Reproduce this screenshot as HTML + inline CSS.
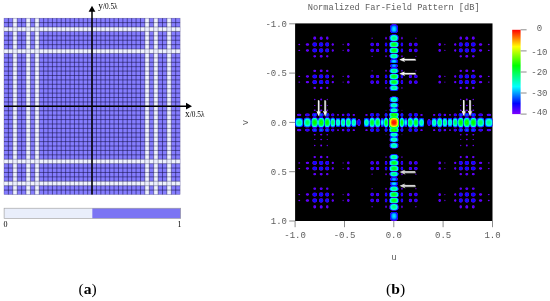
<!DOCTYPE html>
<html lang="en">
<head>
<meta charset="utf-8">
<title>Figure</title>
<style>
html,body{margin:0;padding:0;background:#fff;}
body{width:550px;height:301px;overflow:hidden;}
svg{display:block;}
.se{font-family:"Liberation Serif",serif;fill:#000;}
.mo{font-family:"Liberation Mono",monospace;font-size:9px;fill:#5e5e5e;}
</style>
</head>
<body>
<svg width="550" height="301" viewBox="0 0 550 301">
<defs><linearGradient id="cb" x1="0" y1="0" x2="0" y2="1"><stop offset="0.000" stop-color="#ff0000"/><stop offset="0.200" stop-color="#ffff00"/><stop offset="0.425" stop-color="#00ff00"/><stop offset="0.675" stop-color="#00ffff"/><stop offset="0.875" stop-color="#0000ff"/><stop offset="1.000" stop-color="#8000ff"/></linearGradient><g id="L0"><rect x="388.84" y="116.93" width="10.31" height="11.14" rx="2.76" ry="2.98"/><rect x="389.39" y="112.77" width="9.22" height="4.26" rx="2.58" ry="1.19"/><rect x="389.81" y="108.34" width="8.39" height="3.93" rx="2.57" ry="1.20"/><rect x="389.84" y="103.06" width="8.32" height="4.58" rx="2.57" ry="1.41"/><rect x="389.84" y="96.79" width="8.32" height="5.34" rx="2.57" ry="1.65"/><rect x="389.77" y="85.41" width="8.45" height="5.07" rx="2.57" ry="1.54"/><rect x="389.51" y="79.57" width="8.97" height="5.16" rx="2.57" ry="1.48"/><rect x="389.51" y="73.88" width="8.97" height="5.16" rx="2.57" ry="1.48"/><rect x="389.74" y="68.46" width="8.52" height="4.76" rx="2.57" ry="1.44"/><rect x="390.41" y="64.05" width="7.19" height="3.45" rx="2.53" ry="1.22"/><rect x="390.20" y="59.44" width="7.60" height="3.62" rx="2.55" ry="1.21"/><rect x="389.74" y="53.80" width="8.52" height="4.76" rx="2.57" ry="1.44"/><rect x="389.51" y="47.78" width="8.97" height="5.34" rx="2.57" ry="1.53"/><rect x="389.51" y="41.78" width="8.97" height="5.43" rx="2.57" ry="1.56"/><rect x="389.74" y="34.68" width="8.52" height="6.40" rx="2.57" ry="1.93"/><rect x="390.25" y="24.46" width="7.50" height="8.55" rx="2.55" ry="2.91"/><rect x="384.36" y="117.63" width="3.46" height="9.74" rx="0.99" ry="2.78"/><rect x="384.75" y="113.30" width="2.64" height="3.20" rx="0.92" ry="1.11"/><rect x="385.61" y="109.80" width="0.82" height="0.99" rx="0.41" ry="0.49"/><rect x="385.46" y="87.02" width="1.15" height="1.79" rx="0.57" ry="0.88"/><rect x="384.89" y="80.37" width="2.35" height="3.53" rx="0.91" ry="1.36"/><rect x="384.89" y="74.71" width="2.35" height="3.53" rx="0.91" ry="1.36"/><rect x="385.34" y="69.81" width="1.39" height="2.02" rx="0.67" ry="0.97"/><rect x="385.34" y="55.30" width="1.39" height="2.02" rx="0.67" ry="0.97"/><rect x="384.89" y="48.64" width="2.35" height="3.65" rx="0.91" ry="1.41"/><rect x="384.89" y="42.64" width="2.35" height="3.71" rx="0.91" ry="1.44"/><rect x="385.34" y="36.82" width="1.39" height="2.71" rx="0.67" ry="1.31"/><rect x="380.78" y="118.30" width="3.05" height="8.40" rx="1.00" ry="2.76"/><rect x="375.18" y="117.71" width="4.93" height="9.57" rx="1.43" ry="2.78"/><rect x="375.84" y="113.40" width="3.59" height="3.00" rx="1.33" ry="1.11"/><rect x="376.11" y="80.55" width="3.05" height="3.16" rx="1.28" ry="1.32"/><rect x="376.11" y="74.89" width="3.05" height="3.16" rx="1.28" ry="1.32"/><rect x="376.11" y="48.84" width="3.05" height="3.27" rx="1.28" ry="1.37"/><rect x="376.11" y="42.84" width="3.05" height="3.32" rx="1.28" ry="1.39"/><rect x="369.58" y="117.68" width="5.04" height="9.63" rx="1.45" ry="2.78"/><rect x="370.23" y="113.36" width="3.74" height="3.07" rx="1.35" ry="1.11"/><rect x="370.48" y="80.48" width="3.24" height="3.29" rx="1.32" ry="1.34"/><rect x="370.48" y="74.82" width="3.24" height="3.29" rx="1.32" ry="1.34"/><rect x="371.50" y="70.22" width="1.21" height="1.19" rx="0.60" ry="0.59"/><rect x="371.50" y="55.75" width="1.21" height="1.19" rx="0.60" ry="0.59"/><rect x="370.48" y="48.77" width="3.24" height="3.41" rx="1.32" ry="1.39"/><rect x="370.48" y="42.77" width="3.24" height="3.47" rx="1.32" ry="1.41"/><rect x="371.50" y="37.47" width="1.21" height="1.60" rx="0.60" ry="0.79"/><rect x="364.04" y="118.01" width="4.83" height="8.98" rx="1.49" ry="2.77"/><rect x="365.29" y="113.94" width="2.38" height="1.92" rx="1.12" ry="0.90"/><rect x="357.47" y="119.33" width="2.93" height="6.35" rx="1.19" ry="2.59"/><rect x="351.43" y="118.01" width="4.75" height="8.98" rx="1.47" ry="2.77"/><rect x="352.63" y="113.94" width="2.34" height="1.92" rx="1.10" ry="0.90"/><rect x="346.01" y="117.80" width="4.67" height="9.39" rx="1.38" ry="2.78"/><rect x="346.74" y="113.52" width="3.18" height="2.76" rx="1.26" ry="1.09"/><rect x="347.10" y="80.81" width="2.44" height="2.62" rx="1.11" ry="1.20"/><rect x="347.10" y="75.17" width="2.44" height="2.62" rx="1.11" ry="1.20"/><rect x="347.10" y="49.12" width="2.44" height="2.71" rx="1.11" ry="1.24"/><rect x="347.10" y="43.12" width="2.44" height="2.76" rx="1.11" ry="1.26"/><rect x="340.95" y="117.94" width="4.38" height="9.13" rx="1.33" ry="2.77"/><rect x="341.86" y="113.76" width="2.53" height="2.28" rx="1.12" ry="1.01"/><rect x="342.56" y="81.50" width="1.10" height="1.23" rx="0.55" ry="0.61"/><rect x="342.56" y="75.87" width="1.10" height="1.23" rx="0.55" ry="0.61"/><rect x="342.56" y="49.85" width="1.10" height="1.27" rx="0.55" ry="0.63"/><rect x="342.56" y="43.85" width="1.10" height="1.29" rx="0.55" ry="0.64"/><rect x="335.81" y="118.05" width="4.38" height="8.91" rx="1.36" ry="2.77"/><rect x="337.05" y="114.06" width="1.91" height="1.69" rx="0.92" ry="0.81"/><rect x="330.44" y="117.84" width="4.64" height="9.33" rx="1.38" ry="2.78"/><rect x="331.24" y="113.57" width="3.06" height="2.66" rx="1.25" ry="1.08"/><rect x="331.67" y="80.93" width="2.21" height="2.38" rx="1.04" ry="1.12"/><rect x="331.67" y="75.29" width="2.21" height="2.38" rx="1.04" ry="1.12"/><rect x="331.67" y="49.25" width="2.21" height="2.46" rx="1.04" ry="1.16"/><rect x="331.67" y="43.25" width="2.21" height="2.51" rx="1.04" ry="1.18"/><rect x="324.56" y="117.60" width="5.30" height="9.80" rx="1.50" ry="2.78"/><rect x="325.18" y="113.27" width="4.10" height="3.26" rx="1.40" ry="1.11"/><rect x="326.39" y="109.60" width="1.76" height="1.39" rx="0.86" ry="0.68"/><rect x="326.65" y="104.95" width="1.25" height="1.16" rx="0.62" ry="0.58"/><rect x="326.65" y="98.81" width="1.25" height="1.36" rx="0.62" ry="0.68"/><rect x="326.20" y="86.84" width="2.13" height="2.16" rx="1.02" ry="1.04"/><rect x="325.39" y="80.32" width="3.69" height="3.63" rx="1.40" ry="1.37"/><rect x="325.39" y="74.65" width="3.69" height="3.63" rx="1.40" ry="1.37"/><rect x="326.05" y="69.67" width="2.42" height="2.30" rx="1.14" ry="1.08"/><rect x="326.05" y="55.15" width="2.42" height="2.30" rx="1.14" ry="1.08"/><rect x="325.39" y="48.59" width="3.69" height="3.76" rx="1.40" ry="1.42"/><rect x="325.39" y="42.59" width="3.69" height="3.82" rx="1.40" ry="1.44"/><rect x="326.05" y="36.60" width="2.42" height="3.09" rx="1.14" ry="1.45"/><rect x="318.26" y="117.57" width="5.78" height="9.85" rx="1.63" ry="2.78"/><rect x="318.90" y="113.25" width="4.53" height="3.31" rx="1.52" ry="1.11"/><rect x="320.03" y="109.46" width="2.31" height="1.69" rx="1.11" ry="0.81"/><rect x="320.23" y="104.69" width="1.91" height="1.63" rx="0.94" ry="0.80"/><rect x="320.23" y="98.53" width="1.91" height="1.91" rx="0.94" ry="0.94"/><rect x="319.86" y="86.69" width="2.63" height="2.46" rx="1.24" ry="1.16"/><rect x="319.11" y="80.27" width="4.11" height="3.72" rx="1.52" ry="1.37"/><rect x="319.11" y="74.61" width="4.11" height="3.72" rx="1.52" ry="1.37"/><rect x="319.73" y="69.56" width="2.90" height="2.53" rx="1.32" ry="1.16"/><rect x="319.73" y="55.02" width="2.90" height="2.53" rx="1.32" ry="1.16"/><rect x="319.11" y="48.54" width="4.11" height="3.85" rx="1.52" ry="1.42"/><rect x="319.11" y="42.54" width="4.11" height="3.92" rx="1.52" ry="1.45"/><rect x="319.73" y="36.42" width="2.90" height="3.40" rx="1.32" ry="1.56"/><rect x="311.51" y="117.60" width="6.21" height="9.80" rx="1.76" ry="2.78"/><rect x="312.25" y="113.27" width="4.81" height="3.26" rx="1.64" ry="1.11"/><rect x="313.71" y="109.60" width="2.06" height="1.39" rx="1.01" ry="0.68"/><rect x="314.02" y="104.95" width="1.47" height="1.16" rx="0.73" ry="0.58"/><rect x="314.02" y="98.81" width="1.47" height="1.36" rx="0.73" ry="0.68"/><rect x="313.48" y="86.84" width="2.49" height="2.16" rx="1.20" ry="1.04"/><rect x="312.51" y="80.32" width="4.33" height="3.63" rx="1.64" ry="1.37"/><rect x="312.51" y="74.65" width="4.33" height="3.63" rx="1.64" ry="1.37"/><rect x="313.30" y="69.67" width="2.84" height="2.30" rx="1.33" ry="1.08"/><rect x="313.30" y="55.15" width="2.84" height="2.30" rx="1.33" ry="1.08"/><rect x="312.51" y="48.59" width="4.33" height="3.76" rx="1.64" ry="1.42"/><rect x="312.51" y="42.59" width="4.33" height="3.82" rx="1.64" ry="1.44"/><rect x="313.30" y="36.60" width="2.84" height="3.09" rx="1.33" ry="1.45"/><rect x="303.91" y="117.84" width="6.83" height="9.33" rx="2.03" ry="2.78"/><rect x="305.13" y="113.57" width="4.51" height="2.66" rx="1.84" ry="1.08"/><rect x="305.79" y="80.93" width="3.26" height="2.38" rx="1.53" ry="1.12"/><rect x="305.79" y="75.29" width="3.26" height="2.38" rx="1.53" ry="1.12"/><rect x="305.79" y="49.25" width="3.26" height="2.46" rx="1.53" ry="1.16"/><rect x="305.79" y="43.25" width="3.26" height="2.51" rx="1.53" ry="1.18"/><rect x="295.26" y="117.94" width="7.57" height="9.13" rx="2.30" ry="2.77"/><rect x="296.97" y="113.76" width="4.36" height="2.28" rx="1.94" ry="1.01"/><rect x="298.29" y="81.50" width="1.90" height="1.23" rx="0.94" ry="0.61"/><rect x="298.29" y="75.87" width="1.90" height="1.23" rx="0.94" ry="0.61"/><rect x="298.29" y="49.85" width="1.90" height="1.27" rx="0.94" ry="0.63"/><rect x="298.29" y="43.85" width="1.90" height="1.29" rx="0.94" ry="0.64"/></g><g id="L1"><rect x="388.88" y="116.97" width="10.24" height="11.06" rx="2.76" ry="2.98"/><rect x="389.45" y="112.79" width="9.10" height="4.21" rx="2.57" ry="1.19"/><rect x="389.89" y="108.37" width="8.21" height="3.86" rx="2.56" ry="1.21"/><rect x="389.93" y="103.10" width="8.14" height="4.50" rx="2.56" ry="1.42"/><rect x="389.93" y="96.84" width="8.14" height="5.25" rx="2.56" ry="1.65"/><rect x="389.86" y="85.45" width="8.28" height="4.99" rx="2.57" ry="1.54"/><rect x="389.58" y="79.60" width="8.84" height="5.09" rx="2.57" ry="1.48"/><rect x="389.58" y="73.91" width="8.84" height="5.09" rx="2.57" ry="1.48"/><rect x="389.82" y="68.50" width="8.35" height="4.68" rx="2.57" ry="1.44"/><rect x="390.56" y="64.11" width="6.89" height="3.33" rx="2.52" ry="1.22"/><rect x="390.33" y="59.49" width="7.35" height="3.52" rx="2.54" ry="1.22"/><rect x="389.82" y="53.85" width="8.35" height="4.68" rx="2.57" ry="1.44"/><rect x="389.58" y="47.82" width="8.84" height="5.27" rx="2.57" ry="1.53"/><rect x="389.58" y="41.82" width="8.84" height="5.36" rx="2.57" ry="1.56"/><rect x="389.82" y="34.74" width="8.35" height="6.30" rx="2.57" ry="1.94"/><rect x="390.38" y="24.59" width="7.24" height="8.31" rx="2.54" ry="2.91"/><rect x="384.38" y="117.70" width="3.41" height="9.60" rx="0.99" ry="2.78"/><rect x="384.81" y="113.38" width="2.51" height="3.04" rx="0.92" ry="1.11"/><rect x="384.98" y="80.52" width="2.15" height="3.23" rx="0.89" ry="1.33"/><rect x="384.98" y="74.86" width="2.15" height="3.23" rx="0.89" ry="1.33"/><rect x="385.73" y="70.39" width="0.58" height="0.84" rx="0.29" ry="0.42"/><rect x="385.73" y="55.94" width="0.58" height="0.84" rx="0.29" ry="0.42"/><rect x="384.98" y="48.80" width="2.15" height="3.34" rx="0.89" ry="1.38"/><rect x="384.98" y="42.80" width="2.15" height="3.40" rx="0.89" ry="1.40"/><rect x="385.73" y="37.74" width="0.58" height="1.13" rx="0.29" ry="0.56"/><rect x="380.81" y="118.42" width="2.97" height="8.15" rx="1.00" ry="2.75"/><rect x="375.21" y="117.79" width="4.86" height="9.42" rx="1.43" ry="2.78"/><rect x="375.96" y="113.50" width="3.35" height="2.80" rx="1.31" ry="1.10"/><rect x="376.31" y="80.76" width="2.63" height="2.73" rx="1.19" ry="1.23"/><rect x="376.31" y="75.11" width="2.63" height="2.73" rx="1.19" ry="1.23"/><rect x="376.31" y="49.06" width="2.63" height="2.82" rx="1.19" ry="1.27"/><rect x="376.31" y="43.06" width="2.63" height="2.87" rx="1.19" ry="1.29"/><rect x="369.61" y="117.76" width="4.98" height="9.49" rx="1.46" ry="2.78"/><rect x="370.34" y="113.46" width="3.52" height="2.89" rx="1.34" ry="1.10"/><rect x="370.67" y="80.67" width="2.87" height="2.92" rx="1.25" ry="1.28"/><rect x="370.67" y="75.02" width="2.87" height="2.92" rx="1.25" ry="1.28"/><rect x="370.67" y="48.96" width="2.87" height="3.02" rx="1.25" ry="1.32"/><rect x="370.67" y="42.96" width="2.87" height="3.07" rx="1.25" ry="1.34"/><rect x="364.09" y="118.10" width="4.75" height="8.79" rx="1.49" ry="2.77"/><rect x="365.74" y="114.29" width="1.50" height="1.21" rx="0.74" ry="0.60"/><rect x="357.59" y="119.61" width="2.71" height="5.77" rx="1.16" ry="2.48"/><rect x="351.47" y="118.10" width="4.66" height="8.79" rx="1.47" ry="2.77"/><rect x="353.06" y="114.29" width="1.47" height="1.21" rx="0.73" ry="0.60"/><rect x="346.04" y="117.88" width="4.60" height="9.23" rx="1.38" ry="2.77"/><rect x="346.89" y="113.66" width="2.86" height="2.49" rx="1.22" ry="1.06"/><rect x="347.42" y="81.16" width="1.78" height="1.92" rx="0.87" ry="0.93"/><rect x="347.42" y="75.52" width="1.78" height="1.92" rx="0.87" ry="0.93"/><rect x="347.42" y="49.49" width="1.78" height="1.99" rx="0.87" ry="0.97"/><rect x="347.42" y="43.49" width="1.78" height="2.02" rx="0.87" ry="0.98"/><rect x="340.99" y="118.03" width="4.31" height="8.95" rx="1.34" ry="2.77"/><rect x="342.12" y="113.99" width="2.01" height="1.81" rx="0.96" ry="0.86"/><rect x="335.85" y="118.15" width="4.30" height="8.71" rx="1.37" ry="2.77"/><rect x="337.60" y="114.55" width="0.79" height="0.70" rx="0.40" ry="0.35"/><rect x="330.47" y="117.92" width="4.57" height="9.16" rx="1.38" ry="2.77"/><rect x="331.42" y="113.72" width="2.71" height="2.35" rx="1.19" ry="1.03"/><rect x="332.09" y="81.36" width="1.40" height="1.50" rx="0.69" ry="0.74"/><rect x="332.09" y="75.74" width="1.40" height="1.50" rx="0.69" ry="0.74"/><rect x="332.09" y="49.71" width="1.40" height="1.55" rx="0.69" ry="0.77"/><rect x="332.09" y="43.71" width="1.40" height="1.58" rx="0.69" ry="0.78"/><rect x="324.59" y="117.67" width="5.24" height="9.66" rx="1.51" ry="2.78"/><rect x="325.27" y="113.35" width="3.92" height="3.11" rx="1.40" ry="1.11"/><rect x="326.84" y="87.46" width="0.89" height="0.90" rx="0.44" ry="0.45"/><rect x="325.53" y="80.45" width="3.41" height="3.36" rx="1.37" ry="1.35"/><rect x="325.53" y="74.79" width="3.41" height="3.36" rx="1.37" ry="1.35"/><rect x="326.51" y="70.09" width="1.53" height="1.45" rx="0.76" ry="0.72"/><rect x="326.51" y="55.61" width="1.53" height="1.45" rx="0.76" ry="0.72"/><rect x="325.53" y="48.73" width="3.41" height="3.47" rx="1.37" ry="1.40"/><rect x="325.53" y="42.73" width="3.41" height="3.53" rx="1.37" ry="1.42"/><rect x="326.51" y="37.27" width="1.53" height="1.95" rx="0.76" ry="0.96"/><rect x="318.30" y="117.64" width="5.72" height="9.72" rx="1.63" ry="2.78"/><rect x="319.00" y="113.32" width="4.34" height="3.17" rx="1.52" ry="1.11"/><rect x="320.71" y="109.95" width="0.96" height="0.70" rx="0.48" ry="0.35"/><rect x="320.36" y="87.14" width="1.66" height="1.55" rx="0.82" ry="0.77"/><rect x="319.25" y="80.39" width="3.84" height="3.47" rx="1.50" ry="1.36"/><rect x="319.25" y="74.73" width="3.84" height="3.47" rx="1.50" ry="1.36"/><rect x="320.12" y="69.89" width="2.12" height="1.85" rx="1.03" ry="0.90"/><rect x="320.12" y="55.39" width="2.12" height="1.85" rx="1.03" ry="0.90"/><rect x="319.25" y="48.67" width="3.84" height="3.59" rx="1.50" ry="1.41"/><rect x="319.25" y="42.67" width="3.84" height="3.66" rx="1.50" ry="1.43"/><rect x="320.12" y="36.95" width="2.12" height="2.49" rx="1.03" ry="1.21"/><rect x="311.55" y="117.67" width="6.14" height="9.66" rx="1.77" ry="2.78"/><rect x="312.37" y="113.35" width="4.59" height="3.11" rx="1.64" ry="1.11"/><rect x="314.25" y="87.46" width="1.04" height="0.90" rx="0.52" ry="0.45"/><rect x="312.68" y="80.45" width="4.00" height="3.36" rx="1.61" ry="1.35"/><rect x="312.68" y="74.79" width="4.00" height="3.36" rx="1.61" ry="1.35"/><rect x="313.85" y="70.09" width="1.79" height="1.45" rx="0.89" ry="0.72"/><rect x="313.85" y="55.61" width="1.79" height="1.45" rx="0.89" ry="0.72"/><rect x="312.68" y="48.73" width="4.00" height="3.47" rx="1.61" ry="1.40"/><rect x="312.68" y="42.73" width="4.00" height="3.53" rx="1.61" ry="1.42"/><rect x="313.85" y="37.27" width="1.79" height="1.95" rx="0.89" ry="0.96"/><rect x="303.96" y="117.92" width="6.73" height="9.16" rx="2.04" ry="2.77"/><rect x="305.40" y="113.72" width="3.99" height="2.35" rx="1.75" ry="1.03"/><rect x="306.42" y="81.36" width="2.05" height="1.50" rx="1.02" ry="0.74"/><rect x="306.42" y="75.74" width="2.05" height="1.50" rx="1.02" ry="0.74"/><rect x="306.42" y="49.71" width="2.05" height="1.55" rx="1.02" ry="0.77"/><rect x="306.42" y="43.71" width="2.05" height="1.58" rx="1.02" ry="0.78"/><rect x="295.33" y="118.03" width="7.44" height="8.95" rx="2.30" ry="2.77"/><rect x="297.45" y="113.99" width="3.46" height="1.81" rx="1.65" ry="0.86"/></g><g id="L2"><rect x="388.92" y="117.01" width="10.16" height="10.97" rx="2.76" ry="2.98"/><rect x="389.51" y="112.82" width="8.97" height="4.16" rx="2.57" ry="1.19"/><rect x="389.99" y="108.41" width="8.02" height="3.78" rx="2.56" ry="1.21"/><rect x="390.03" y="103.15" width="7.95" height="4.41" rx="2.56" ry="1.42"/><rect x="390.03" y="96.89" width="7.95" height="5.14" rx="2.56" ry="1.66"/><rect x="389.95" y="85.49" width="8.10" height="4.89" rx="2.56" ry="1.55"/><rect x="389.65" y="79.63" width="8.70" height="5.02" rx="2.57" ry="1.48"/><rect x="389.65" y="73.94" width="8.70" height="5.02" rx="2.57" ry="1.48"/><rect x="389.91" y="68.54" width="8.18" height="4.60" rx="2.56" ry="1.44"/><rect x="390.73" y="64.17" width="6.55" height="3.20" rx="2.49" ry="1.22"/><rect x="390.46" y="59.55" width="7.07" height="3.41" rx="2.53" ry="1.22"/><rect x="389.91" y="53.89" width="8.18" height="4.60" rx="2.56" ry="1.44"/><rect x="389.65" y="47.86" width="8.70" height="5.20" rx="2.57" ry="1.54"/><rect x="389.65" y="41.86" width="8.70" height="5.29" rx="2.57" ry="1.56"/><rect x="389.91" y="34.81" width="8.18" height="6.19" rx="2.56" ry="1.94"/><rect x="390.52" y="24.75" width="6.95" height="8.03" rx="2.52" ry="2.91"/><rect x="384.41" y="117.77" width="3.37" height="9.45" rx="0.99" ry="2.78"/><rect x="384.89" y="113.48" width="2.35" height="2.85" rx="0.91" ry="1.10"/><rect x="385.11" y="80.71" width="1.88" height="2.83" rx="0.84" ry="1.25"/><rect x="385.11" y="75.06" width="1.88" height="2.83" rx="0.84" ry="1.25"/><rect x="385.11" y="49.01" width="1.88" height="2.92" rx="0.84" ry="1.30"/><rect x="385.11" y="43.01" width="1.88" height="2.97" rx="0.84" ry="1.32"/><rect x="380.86" y="118.56" width="2.89" height="7.88" rx="1.01" ry="2.74"/><rect x="375.25" y="117.87" width="4.79" height="9.26" rx="1.43" ry="2.77"/><rect x="376.11" y="113.63" width="3.05" height="2.55" rx="1.28" ry="1.07"/><rect x="376.61" y="81.07" width="2.02" height="2.09" rx="0.97" ry="1.01"/><rect x="376.61" y="75.44" width="2.02" height="2.09" rx="0.97" ry="1.01"/><rect x="376.61" y="49.40" width="2.02" height="2.16" rx="0.97" ry="1.04"/><rect x="376.61" y="43.40" width="2.02" height="2.20" rx="0.97" ry="1.06"/><rect x="369.65" y="117.84" width="4.91" height="9.33" rx="1.46" ry="2.78"/><rect x="370.48" y="113.57" width="3.24" height="2.66" rx="1.32" ry="1.08"/><rect x="370.93" y="80.93" width="2.34" height="2.38" rx="1.10" ry="1.12"/><rect x="370.93" y="75.29" width="2.34" height="2.38" rx="1.10" ry="1.12"/><rect x="370.93" y="49.25" width="2.34" height="2.46" rx="1.10" ry="1.16"/><rect x="370.93" y="43.25" width="2.34" height="2.51" rx="1.10" ry="1.18"/><rect x="364.13" y="118.21" width="4.65" height="8.58" rx="1.50" ry="2.77"/><rect x="357.74" y="119.97" width="2.42" height="5.06" rx="1.09" ry="2.29"/><rect x="351.52" y="118.21" width="4.57" height="8.58" rx="1.47" ry="2.77"/><rect x="346.08" y="117.97" width="4.53" height="9.06" rx="1.39" ry="2.77"/><rect x="347.10" y="113.84" width="2.44" height="2.12" rx="1.11" ry="0.97"/><rect x="341.03" y="118.13" width="4.23" height="8.75" rx="1.34" ry="2.77"/><rect x="342.56" y="114.40" width="1.10" height="0.99" rx="0.55" ry="0.49"/><rect x="335.90" y="118.25" width="4.21" height="8.49" rx="1.37" ry="2.76"/><rect x="330.51" y="118.01" width="4.49" height="8.98" rx="1.39" ry="2.77"/><rect x="331.67" y="113.94" width="2.21" height="1.92" rx="1.04" ry="0.90"/><rect x="324.63" y="117.74" width="5.17" height="9.52" rx="1.51" ry="2.78"/><rect x="325.39" y="113.44" width="3.69" height="2.93" rx="1.40" ry="1.11"/><rect x="325.72" y="80.63" width="3.05" height="3.00" rx="1.32" ry="1.29"/><rect x="325.72" y="74.97" width="3.05" height="3.00" rx="1.32" ry="1.29"/><rect x="325.72" y="48.92" width="3.05" height="3.11" rx="1.32" ry="1.34"/><rect x="325.72" y="42.92" width="3.05" height="3.16" rx="1.32" ry="1.36"/><rect x="318.33" y="117.71" width="5.64" height="9.57" rx="1.64" ry="2.78"/><rect x="319.11" y="113.40" width="4.11" height="3.00" rx="1.52" ry="1.11"/><rect x="319.43" y="80.55" width="3.49" height="3.16" rx="1.46" ry="1.32"/><rect x="319.43" y="74.89" width="3.49" height="3.16" rx="1.46" ry="1.32"/><rect x="319.43" y="48.84" width="3.49" height="3.27" rx="1.46" ry="1.37"/><rect x="319.43" y="42.84" width="3.49" height="3.32" rx="1.46" ry="1.39"/><rect x="311.59" y="117.74" width="6.06" height="9.52" rx="1.77" ry="2.78"/><rect x="312.51" y="113.44" width="4.33" height="2.93" rx="1.64" ry="1.11"/><rect x="312.90" y="80.63" width="3.58" height="3.00" rx="1.54" ry="1.29"/><rect x="312.90" y="74.97" width="3.58" height="3.00" rx="1.54" ry="1.29"/><rect x="312.90" y="48.92" width="3.58" height="3.11" rx="1.54" ry="1.34"/><rect x="312.90" y="42.92" width="3.58" height="3.16" rx="1.54" ry="1.36"/><rect x="304.02" y="118.01" width="6.62" height="8.98" rx="2.04" ry="2.77"/><rect x="305.79" y="113.94" width="3.26" height="1.92" rx="1.53" ry="0.90"/><rect x="295.40" y="118.13" width="7.30" height="8.75" rx="2.31" ry="2.77"/><rect x="298.29" y="114.40" width="1.90" height="0.99" rx="0.94" ry="0.49"/></g><g id="L3"><rect x="388.96" y="117.06" width="10.08" height="10.89" rx="2.76" ry="2.98"/><rect x="389.58" y="112.85" width="8.84" height="4.11" rx="2.57" ry="1.20"/><rect x="390.09" y="108.45" width="7.82" height="3.70" rx="2.56" ry="1.21"/><rect x="390.13" y="103.21" width="7.73" height="4.31" rx="2.56" ry="1.42"/><rect x="390.13" y="96.95" width="7.73" height="5.03" rx="2.56" ry="1.66"/><rect x="390.05" y="85.54" width="7.90" height="4.79" rx="2.56" ry="1.55"/><rect x="389.73" y="79.67" width="8.55" height="4.95" rx="2.57" ry="1.49"/><rect x="389.73" y="73.98" width="8.55" height="4.95" rx="2.57" ry="1.49"/><rect x="390.01" y="68.59" width="7.99" height="4.51" rx="2.56" ry="1.45"/><rect x="390.93" y="64.25" width="6.15" height="3.04" rx="2.44" ry="1.21"/><rect x="390.62" y="59.62" width="6.76" height="3.28" rx="2.51" ry="1.22"/><rect x="390.01" y="53.94" width="7.99" height="4.51" rx="2.56" ry="1.45"/><rect x="389.73" y="47.90" width="8.55" height="5.12" rx="2.57" ry="1.54"/><rect x="389.73" y="41.90" width="8.55" height="5.21" rx="2.57" ry="1.57"/><rect x="390.01" y="34.88" width="7.99" height="6.06" rx="2.56" ry="1.94"/><rect x="390.69" y="24.92" width="6.62" height="7.72" rx="2.49" ry="2.91"/><rect x="384.43" y="117.85" width="3.32" height="9.30" rx="0.99" ry="2.77"/><rect x="384.98" y="113.60" width="2.15" height="2.60" rx="0.89" ry="1.08"/><rect x="385.29" y="81.00" width="1.50" height="2.24" rx="0.71" ry="1.07"/><rect x="385.29" y="75.36" width="1.50" height="2.24" rx="0.71" ry="1.07"/><rect x="385.29" y="49.32" width="1.50" height="2.32" rx="0.71" ry="1.11"/><rect x="385.29" y="43.32" width="1.50" height="2.36" rx="0.71" ry="1.12"/><rect x="380.90" y="118.71" width="2.80" height="7.57" rx="1.01" ry="2.73"/><rect x="375.29" y="117.95" width="4.71" height="9.09" rx="1.44" ry="2.77"/><rect x="376.31" y="113.80" width="2.63" height="2.20" rx="1.19" ry="0.99"/><rect x="377.19" y="81.67" width="0.84" height="0.87" rx="0.42" ry="0.43"/><rect x="377.19" y="76.06" width="0.84" height="0.87" rx="0.42" ry="0.43"/><rect x="377.19" y="50.04" width="0.84" height="0.90" rx="0.42" ry="0.45"/><rect x="377.19" y="44.04" width="0.84" height="0.92" rx="0.42" ry="0.46"/><rect x="369.69" y="117.92" width="4.83" height="9.16" rx="1.46" ry="2.77"/><rect x="370.67" y="113.72" width="2.87" height="2.35" rx="1.25" ry="1.03"/><rect x="371.36" y="81.36" width="1.47" height="1.50" rx="0.73" ry="0.74"/><rect x="371.36" y="75.74" width="1.47" height="1.50" rx="0.73" ry="0.74"/><rect x="371.36" y="49.71" width="1.47" height="1.55" rx="0.73" ry="0.77"/><rect x="371.36" y="43.71" width="1.47" height="1.58" rx="0.73" ry="0.78"/><rect x="364.19" y="118.32" width="4.55" height="8.35" rx="1.50" ry="2.76"/><rect x="357.94" y="120.44" width="2.02" height="4.12" rx="0.96" ry="1.96"/><rect x="351.57" y="118.32" width="4.47" height="8.35" rx="1.48" ry="2.76"/><rect x="346.12" y="118.07" width="4.45" height="8.87" rx="1.39" ry="2.77"/><rect x="347.42" y="114.13" width="1.78" height="1.55" rx="0.87" ry="0.75"/><rect x="341.07" y="118.23" width="4.14" height="8.54" rx="1.34" ry="2.76"/><rect x="335.95" y="118.37" width="4.11" height="8.25" rx="1.37" ry="2.76"/><rect x="330.55" y="118.10" width="4.41" height="8.79" rx="1.39" ry="2.77"/><rect x="332.09" y="114.29" width="1.40" height="1.21" rx="0.69" ry="0.60"/><rect x="324.66" y="117.82" width="5.10" height="9.36" rx="1.51" ry="2.78"/><rect x="325.53" y="113.55" width="3.41" height="2.71" rx="1.37" ry="1.09"/><rect x="325.98" y="80.87" width="2.55" height="2.51" rx="1.18" ry="1.16"/><rect x="325.98" y="75.22" width="2.55" height="2.51" rx="1.18" ry="1.16"/><rect x="325.98" y="49.18" width="2.55" height="2.59" rx="1.18" ry="1.20"/><rect x="325.98" y="43.18" width="2.55" height="2.64" rx="1.18" ry="1.22"/><rect x="318.37" y="117.79" width="5.57" height="9.42" rx="1.64" ry="2.78"/><rect x="319.25" y="113.50" width="3.84" height="2.80" rx="1.50" ry="1.10"/><rect x="319.67" y="80.76" width="3.01" height="2.73" rx="1.36" ry="1.23"/><rect x="319.67" y="75.11" width="3.01" height="2.73" rx="1.36" ry="1.23"/><rect x="319.67" y="49.06" width="3.01" height="2.82" rx="1.36" ry="1.27"/><rect x="319.67" y="43.06" width="3.01" height="2.87" rx="1.36" ry="1.29"/><rect x="311.64" y="117.82" width="5.97" height="9.36" rx="1.77" ry="2.78"/><rect x="312.68" y="113.55" width="4.00" height="2.71" rx="1.61" ry="1.09"/><rect x="313.22" y="80.87" width="2.99" height="2.51" rx="1.39" ry="1.16"/><rect x="313.22" y="75.22" width="2.99" height="2.51" rx="1.39" ry="1.16"/><rect x="313.22" y="49.18" width="2.99" height="2.59" rx="1.39" ry="1.20"/><rect x="313.22" y="43.18" width="2.99" height="2.64" rx="1.39" ry="1.22"/><rect x="304.09" y="118.10" width="6.49" height="8.79" rx="2.05" ry="2.77"/><rect x="306.42" y="114.29" width="2.05" height="1.21" rx="1.02" ry="0.60"/><rect x="295.48" y="118.23" width="7.15" height="8.54" rx="2.32" ry="2.76"/></g><g id="L4"><rect x="389.00" y="117.10" width="10.00" height="10.80" rx="2.76" ry="2.98"/><rect x="389.65" y="112.87" width="8.70" height="4.05" rx="2.57" ry="1.20"/><rect x="390.20" y="108.49" width="7.60" height="3.62" rx="2.55" ry="1.21"/><rect x="390.25" y="103.27" width="7.50" height="4.20" rx="2.55" ry="1.43"/><rect x="390.25" y="97.01" width="7.50" height="4.90" rx="2.55" ry="1.66"/><rect x="390.16" y="85.60" width="7.69" height="4.68" rx="2.55" ry="1.56"/><rect x="389.81" y="79.71" width="8.39" height="4.87" rx="2.57" ry="1.49"/><rect x="389.81" y="74.02" width="8.39" height="4.87" rx="2.57" ry="1.49"/><rect x="390.11" y="68.64" width="7.78" height="4.41" rx="2.56" ry="1.45"/><rect x="391.16" y="64.34" width="5.68" height="2.85" rx="2.36" ry="1.18"/><rect x="390.80" y="59.69" width="6.39" height="3.14" rx="2.47" ry="1.21"/><rect x="390.11" y="54.00" width="7.78" height="4.41" rx="2.56" ry="1.45"/><rect x="389.81" y="47.94" width="8.39" height="5.04" rx="2.57" ry="1.54"/><rect x="389.81" y="41.94" width="8.39" height="5.12" rx="2.57" ry="1.57"/><rect x="390.11" y="34.95" width="7.78" height="5.93" rx="2.56" ry="1.95"/><rect x="390.88" y="25.12" width="6.23" height="7.35" rx="2.45" ry="2.89"/><rect x="384.45" y="117.94" width="3.27" height="9.13" rx="0.99" ry="2.77"/><rect x="385.11" y="113.76" width="1.88" height="2.28" rx="0.84" ry="1.01"/><rect x="385.61" y="81.50" width="0.82" height="1.23" rx="0.41" ry="0.61"/><rect x="385.61" y="75.87" width="0.82" height="1.23" rx="0.41" ry="0.61"/><rect x="385.61" y="49.85" width="0.82" height="1.27" rx="0.41" ry="0.63"/><rect x="385.61" y="43.85" width="0.82" height="1.29" rx="0.41" ry="0.64"/><rect x="380.96" y="118.89" width="2.69" height="7.22" rx="1.01" ry="2.70"/><rect x="375.33" y="118.05" width="4.63" height="8.91" rx="1.44" ry="2.77"/><rect x="376.61" y="114.06" width="2.02" height="1.69" rx="0.97" ry="0.81"/><rect x="369.73" y="118.01" width="4.75" height="8.98" rx="1.47" ry="2.77"/><rect x="370.93" y="113.94" width="2.34" height="1.92" rx="1.10" ry="0.90"/><rect x="364.24" y="118.45" width="4.43" height="8.10" rx="1.51" ry="2.75"/><rect x="358.27" y="121.11" width="1.39" height="2.78" rx="0.69" ry="1.37"/><rect x="351.62" y="118.45" width="4.35" height="8.10" rx="1.48" ry="2.75"/><rect x="346.16" y="118.17" width="4.36" height="8.67" rx="1.39" ry="2.77"/><rect x="341.12" y="118.35" width="4.05" height="8.30" rx="1.35" ry="2.76"/><rect x="336.00" y="118.50" width="4.00" height="7.99" rx="1.38" ry="2.75"/><rect x="330.60" y="118.21" width="4.32" height="8.58" rx="1.39" ry="2.77"/><rect x="324.70" y="117.90" width="5.02" height="9.20" rx="1.51" ry="2.77"/><rect x="325.72" y="113.69" width="3.05" height="2.42" rx="1.32" ry="1.04"/><rect x="326.39" y="81.25" width="1.76" height="1.73" rx="0.86" ry="0.85"/><rect x="326.39" y="75.62" width="1.76" height="1.73" rx="0.86" ry="0.85"/><rect x="326.39" y="49.59" width="1.76" height="1.79" rx="0.86" ry="0.88"/><rect x="326.39" y="43.59" width="1.76" height="1.82" rx="0.86" ry="0.89"/><rect x="318.41" y="117.87" width="5.49" height="9.26" rx="1.64" ry="2.77"/><rect x="319.43" y="113.63" width="3.49" height="2.55" rx="1.46" ry="1.07"/><rect x="320.03" y="81.07" width="2.31" height="2.09" rx="1.11" ry="1.01"/><rect x="320.03" y="75.44" width="2.31" height="2.09" rx="1.11" ry="1.01"/><rect x="320.03" y="49.40" width="2.31" height="2.16" rx="1.11" ry="1.04"/><rect x="320.03" y="43.40" width="2.31" height="2.20" rx="1.11" ry="1.06"/><rect x="311.69" y="117.90" width="5.88" height="9.20" rx="1.77" ry="2.77"/><rect x="312.90" y="113.69" width="3.58" height="2.42" rx="1.54" ry="1.04"/><rect x="313.71" y="81.25" width="2.06" height="1.73" rx="1.01" ry="0.85"/><rect x="313.71" y="75.62" width="2.06" height="1.73" rx="1.01" ry="0.85"/><rect x="313.71" y="49.59" width="2.06" height="1.79" rx="1.01" ry="0.88"/><rect x="313.71" y="43.59" width="2.06" height="1.82" rx="1.01" ry="0.89"/><rect x="304.15" y="118.21" width="6.36" height="8.58" rx="2.05" ry="2.77"/><rect x="295.57" y="118.35" width="6.99" height="8.30" rx="2.32" ry="2.76"/></g><g id="L5"><rect x="389.04" y="117.15" width="9.92" height="10.71" rx="2.76" ry="2.98"/><rect x="389.73" y="112.90" width="8.55" height="3.99" rx="2.57" ry="1.20"/><rect x="390.33" y="108.54" width="7.35" height="3.52" rx="2.54" ry="1.22"/><rect x="390.38" y="103.33" width="7.24" height="4.08" rx="2.54" ry="1.43"/><rect x="390.38" y="97.08" width="7.24" height="4.76" rx="2.54" ry="1.67"/><rect x="390.27" y="85.66" width="7.45" height="4.56" rx="2.55" ry="1.56"/><rect x="389.89" y="79.75" width="8.21" height="4.78" rx="2.56" ry="1.49"/><rect x="389.89" y="74.07" width="8.21" height="4.78" rx="2.56" ry="1.49"/><rect x="390.23" y="68.69" width="7.55" height="4.30" rx="2.55" ry="1.45"/><rect x="391.45" y="64.45" width="5.10" height="2.60" rx="2.23" ry="1.14"/><rect x="391.02" y="59.79" width="5.97" height="2.97" rx="2.41" ry="1.20"/><rect x="390.23" y="54.05" width="7.55" height="4.30" rx="2.55" ry="1.45"/><rect x="389.89" y="47.98" width="8.21" height="4.95" rx="2.56" ry="1.55"/><rect x="389.89" y="41.98" width="8.21" height="5.03" rx="2.56" ry="1.57"/><rect x="390.23" y="35.04" width="7.55" height="5.79" rx="2.55" ry="1.95"/><rect x="391.11" y="25.37" width="5.78" height="6.91" rx="2.38" ry="2.84"/><rect x="384.48" y="118.03" width="3.21" height="8.95" rx="0.99" ry="2.77"/><rect x="385.29" y="113.99" width="1.50" height="1.81" rx="0.71" ry="0.86"/><rect x="381.02" y="119.09" width="2.57" height="6.82" rx="1.00" ry="2.66"/><rect x="375.37" y="118.15" width="4.54" height="8.71" rx="1.44" ry="2.77"/><rect x="377.19" y="114.55" width="0.84" height="0.70" rx="0.42" ry="0.35"/><rect x="369.77" y="118.10" width="4.66" height="8.79" rx="1.47" ry="2.77"/><rect x="371.36" y="114.29" width="1.47" height="1.21" rx="0.73" ry="0.60"/><rect x="364.31" y="118.59" width="4.31" height="7.82" rx="1.51" ry="2.74"/><rect x="351.68" y="118.59" width="4.23" height="7.82" rx="1.48" ry="2.74"/><rect x="346.21" y="118.28" width="4.27" height="8.45" rx="1.40" ry="2.76"/><rect x="341.17" y="118.48" width="3.94" height="8.05" rx="1.35" ry="2.75"/><rect x="336.06" y="118.65" width="3.88" height="7.70" rx="1.38" ry="2.73"/><rect x="330.65" y="118.32" width="4.23" height="8.35" rx="1.40" ry="2.76"/><rect x="324.75" y="117.99" width="4.94" height="9.02" rx="1.52" ry="2.77"/><rect x="325.98" y="113.89" width="2.55" height="2.02" rx="1.18" ry="0.94"/><rect x="318.46" y="117.95" width="5.40" height="9.09" rx="1.65" ry="2.77"/><rect x="319.67" y="113.80" width="3.01" height="2.20" rx="1.36" ry="0.99"/><rect x="320.71" y="81.67" width="0.96" height="0.87" rx="0.48" ry="0.43"/><rect x="320.71" y="76.06" width="0.96" height="0.87" rx="0.48" ry="0.43"/><rect x="320.71" y="50.04" width="0.96" height="0.90" rx="0.48" ry="0.45"/><rect x="320.71" y="44.04" width="0.96" height="0.92" rx="0.48" ry="0.46"/><rect x="311.74" y="117.99" width="5.79" height="9.02" rx="1.78" ry="2.77"/><rect x="313.22" y="113.89" width="2.99" height="2.02" rx="1.39" ry="0.94"/><rect x="304.23" y="118.32" width="6.22" height="8.35" rx="2.06" ry="2.76"/><rect x="295.67" y="118.48" width="6.81" height="8.05" rx="2.33" ry="2.75"/></g><g id="L6"><rect x="389.09" y="117.19" width="9.83" height="10.61" rx="2.76" ry="2.98"/><rect x="389.81" y="112.94" width="8.39" height="3.93" rx="2.57" ry="1.20"/><rect x="390.46" y="108.60" width="7.07" height="3.41" rx="2.53" ry="1.22"/><rect x="390.52" y="103.41" width="6.95" height="3.94" rx="2.52" ry="1.43"/><rect x="390.52" y="97.16" width="6.95" height="4.60" rx="2.52" ry="1.67"/><rect x="390.41" y="85.72" width="7.19" height="4.43" rx="2.53" ry="1.56"/><rect x="389.99" y="79.80" width="8.02" height="4.69" rx="2.56" ry="1.50"/><rect x="389.99" y="74.11" width="8.02" height="4.69" rx="2.56" ry="1.50"/><rect x="390.35" y="68.75" width="7.30" height="4.18" rx="2.54" ry="1.46"/><rect x="391.82" y="64.61" width="4.37" height="2.28" rx="2.02" ry="1.05"/><rect x="391.27" y="59.90" width="5.46" height="2.76" rx="2.32" ry="1.17"/><rect x="390.35" y="54.12" width="7.30" height="4.18" rx="2.54" ry="1.46"/><rect x="389.99" y="48.03" width="8.02" height="4.85" rx="2.56" ry="1.55"/><rect x="389.99" y="42.03" width="8.02" height="4.94" rx="2.56" ry="1.58"/><rect x="390.35" y="35.13" width="7.30" height="5.62" rx="2.54" ry="1.96"/><rect x="391.39" y="25.68" width="5.22" height="6.35" rx="2.26" ry="2.75"/><rect x="384.51" y="118.13" width="3.15" height="8.75" rx="1.00" ry="2.77"/><rect x="385.61" y="114.40" width="0.82" height="0.99" rx="0.41" ry="0.49"/><rect x="381.09" y="119.33" width="2.42" height="6.35" rx="0.99" ry="2.59"/><rect x="375.42" y="118.25" width="4.45" height="8.49" rx="1.45" ry="2.76"/><rect x="369.82" y="118.21" width="4.57" height="8.58" rx="1.47" ry="2.77"/><rect x="364.38" y="118.75" width="4.16" height="7.51" rx="1.51" ry="2.72"/><rect x="351.76" y="118.75" width="4.09" height="7.51" rx="1.48" ry="2.72"/><rect x="346.26" y="118.40" width="4.17" height="8.20" rx="1.40" ry="2.76"/><rect x="341.22" y="118.62" width="3.83" height="7.76" rx="1.35" ry="2.74"/><rect x="336.13" y="118.82" width="3.74" height="7.37" rx="1.38" ry="2.71"/><rect x="330.70" y="118.45" width="4.12" height="8.10" rx="1.40" ry="2.75"/><rect x="324.79" y="118.09" width="4.85" height="8.83" rx="1.52" ry="2.77"/><rect x="326.39" y="114.20" width="1.76" height="1.39" rx="0.86" ry="0.68"/><rect x="318.51" y="118.05" width="5.31" height="8.91" rx="1.65" ry="2.77"/><rect x="320.03" y="114.06" width="2.31" height="1.69" rx="1.11" ry="0.81"/><rect x="311.79" y="118.09" width="5.68" height="8.83" rx="1.78" ry="2.77"/><rect x="313.71" y="114.20" width="2.06" height="1.39" rx="1.01" ry="0.68"/><rect x="304.31" y="118.45" width="6.07" height="8.10" rx="2.06" ry="2.75"/><rect x="295.77" y="118.62" width="6.61" height="7.76" rx="2.33" ry="2.74"/></g><g id="L7"><rect x="389.13" y="117.24" width="9.74" height="10.51" rx="2.76" ry="2.98"/><rect x="389.89" y="112.97" width="8.21" height="3.86" rx="2.56" ry="1.21"/><rect x="390.62" y="108.66" width="6.76" height="3.28" rx="2.51" ry="1.22"/><rect x="390.69" y="103.50" width="6.62" height="3.79" rx="2.49" ry="1.43"/><rect x="390.69" y="97.25" width="6.62" height="4.42" rx="2.49" ry="1.67"/><rect x="390.56" y="85.80" width="6.89" height="4.28" rx="2.52" ry="1.56"/><rect x="390.09" y="79.85" width="7.82" height="4.59" rx="2.56" ry="1.50"/><rect x="390.09" y="74.16" width="7.82" height="4.59" rx="2.56" ry="1.50"/><rect x="390.49" y="68.81" width="7.01" height="4.05" rx="2.52" ry="1.46"/><rect x="392.31" y="64.83" width="3.39" height="1.81" rx="1.64" ry="0.88"/><rect x="391.59" y="60.05" width="4.83" height="2.49" rx="2.16" ry="1.11"/><rect x="390.49" y="54.19" width="7.01" height="4.05" rx="2.52" ry="1.46"/><rect x="390.09" y="48.08" width="7.82" height="4.75" rx="2.56" ry="1.55"/><rect x="390.09" y="42.08" width="7.82" height="4.83" rx="2.56" ry="1.58"/><rect x="390.49" y="35.24" width="7.01" height="5.44" rx="2.52" ry="1.96"/><rect x="391.74" y="26.08" width="4.53" height="5.63" rx="2.07" ry="2.57"/><rect x="384.54" y="118.23" width="3.09" height="8.54" rx="1.00" ry="2.76"/><rect x="381.18" y="119.61" width="2.24" height="5.77" rx="0.96" ry="2.48"/><rect x="375.47" y="118.37" width="4.34" height="8.25" rx="1.45" ry="2.76"/><rect x="369.87" y="118.32" width="4.47" height="8.35" rx="1.48" ry="2.76"/><rect x="364.47" y="118.93" width="4.00" height="7.15" rx="1.51" ry="2.69"/><rect x="351.84" y="118.93" width="3.93" height="7.15" rx="1.48" ry="2.69"/><rect x="346.31" y="118.53" width="4.05" height="7.94" rx="1.40" ry="2.75"/><rect x="341.29" y="118.78" width="3.70" height="7.44" rx="1.35" ry="2.72"/><rect x="336.21" y="119.01" width="3.58" height="6.99" rx="1.37" ry="2.68"/><rect x="330.76" y="118.59" width="4.00" height="7.82" rx="1.40" ry="2.74"/><rect x="324.84" y="118.19" width="4.75" height="8.62" rx="1.52" ry="2.77"/><rect x="318.56" y="118.15" width="5.20" height="8.71" rx="1.65" ry="2.77"/><rect x="320.71" y="114.55" width="0.96" height="0.70" rx="0.48" ry="0.35"/><rect x="311.85" y="118.19" width="5.57" height="8.62" rx="1.79" ry="2.77"/><rect x="304.40" y="118.59" width="5.89" height="7.82" rx="2.06" ry="2.74"/><rect x="295.89" y="118.78" width="6.38" height="7.44" rx="2.33" ry="2.72"/></g><g id="L8"><rect x="389.18" y="117.29" width="9.64" height="10.41" rx="2.76" ry="2.98"/><rect x="389.99" y="113.01" width="8.02" height="3.78" rx="2.56" ry="1.21"/><rect x="390.80" y="108.73" width="6.39" height="3.14" rx="2.47" ry="1.21"/><rect x="390.88" y="103.60" width="6.23" height="3.61" rx="2.45" ry="1.42"/><rect x="390.88" y="97.36" width="6.23" height="4.21" rx="2.45" ry="1.65"/><rect x="390.73" y="85.88" width="6.55" height="4.10" rx="2.49" ry="1.56"/><rect x="390.20" y="79.90" width="7.60" height="4.48" rx="2.55" ry="1.50"/><rect x="390.20" y="74.22" width="7.60" height="4.48" rx="2.55" ry="1.50"/><rect x="390.66" y="68.89" width="6.69" height="3.89" rx="2.50" ry="1.45"/><rect x="393.09" y="65.23" width="1.82" height="0.99" rx="0.91" ry="0.49"/><rect x="391.99" y="60.25" width="4.01" height="2.12" rx="1.89" ry="1.00"/><rect x="390.66" y="54.28" width="6.69" height="3.89" rx="2.50" ry="1.45"/><rect x="390.20" y="48.14" width="7.60" height="4.64" rx="2.55" ry="1.56"/><rect x="390.20" y="42.14" width="7.60" height="4.72" rx="2.55" ry="1.58"/><rect x="390.66" y="35.36" width="6.69" height="5.24" rx="2.50" ry="1.96"/><rect x="392.19" y="26.65" width="3.61" height="4.60" rx="1.73" ry="2.21"/><rect x="384.57" y="118.35" width="3.02" height="8.30" rx="1.00" ry="2.76"/><rect x="381.30" y="119.97" width="2.00" height="5.06" rx="0.90" ry="2.29"/><rect x="375.52" y="118.50" width="4.23" height="7.99" rx="1.45" ry="2.75"/><rect x="369.92" y="118.45" width="4.35" height="8.10" rx="1.48" ry="2.75"/><rect x="364.56" y="119.13" width="3.81" height="6.73" rx="1.50" ry="2.65"/><rect x="351.93" y="119.13" width="3.74" height="6.73" rx="1.47" ry="2.65"/><rect x="346.37" y="118.68" width="3.93" height="7.64" rx="1.40" ry="2.73"/><rect x="341.36" y="118.97" width="3.55" height="7.07" rx="1.35" ry="2.69"/><rect x="336.30" y="119.23" width="3.40" height="6.55" rx="1.36" ry="2.62"/><rect x="330.83" y="118.75" width="3.87" height="7.51" rx="1.40" ry="2.72"/><rect x="324.90" y="118.30" width="4.65" height="8.40" rx="1.53" ry="2.76"/><rect x="318.61" y="118.25" width="5.10" height="8.49" rx="1.66" ry="2.76"/><rect x="311.91" y="118.30" width="5.45" height="8.40" rx="1.79" ry="2.76"/><rect x="304.51" y="118.75" width="5.70" height="7.51" rx="2.07" ry="2.72"/><rect x="296.03" y="118.97" width="6.12" height="7.07" rx="2.32" ry="2.69"/></g><g id="L9"><rect x="389.23" y="117.35" width="9.54" height="10.31" rx="2.76" ry="2.98"/><rect x="390.09" y="113.05" width="7.82" height="3.70" rx="2.56" ry="1.21"/><rect x="391.02" y="108.82" width="5.97" height="2.97" rx="2.41" ry="1.20"/><rect x="391.11" y="103.72" width="5.78" height="3.39" rx="2.38" ry="1.40"/><rect x="391.11" y="97.49" width="5.78" height="3.96" rx="2.38" ry="1.63"/><rect x="390.93" y="85.98" width="6.15" height="3.90" rx="2.44" ry="1.55"/><rect x="390.33" y="79.96" width="7.35" height="4.36" rx="2.54" ry="1.51"/><rect x="390.33" y="74.28" width="7.35" height="4.36" rx="2.54" ry="1.51"/><rect x="390.84" y="68.98" width="6.31" height="3.71" rx="2.46" ry="1.45"/><rect x="392.56" y="60.56" width="2.87" height="1.55" rx="1.41" ry="0.76"/><rect x="390.84" y="54.37" width="6.31" height="3.71" rx="2.46" ry="1.45"/><rect x="390.33" y="48.21" width="7.35" height="4.51" rx="2.54" ry="1.56"/><rect x="390.33" y="42.21" width="7.35" height="4.59" rx="2.54" ry="1.59"/><rect x="390.84" y="35.50" width="6.31" height="5.00" rx="2.46" ry="1.95"/><rect x="392.88" y="27.59" width="2.23" height="2.90" rx="1.11" ry="1.44"/><rect x="384.61" y="118.48" width="2.94" height="8.05" rx="1.00" ry="2.75"/><rect x="381.46" y="120.44" width="1.67" height="4.12" rx="0.79" ry="1.96"/><rect x="375.59" y="118.65" width="4.10" height="7.70" rx="1.46" ry="2.73"/><rect x="369.98" y="118.59" width="4.23" height="7.82" rx="1.48" ry="2.74"/><rect x="364.68" y="119.38" width="3.58" height="6.24" rx="1.47" ry="2.57"/><rect x="352.04" y="119.38" width="3.52" height="6.24" rx="1.45" ry="2.57"/><rect x="346.44" y="118.85" width="3.78" height="7.30" rx="1.40" ry="2.71"/><rect x="341.45" y="119.18" width="3.37" height="6.64" rx="1.34" ry="2.63"/><rect x="336.42" y="119.49" width="3.17" height="6.02" rx="1.33" ry="2.53"/><rect x="330.91" y="118.93" width="3.72" height="7.15" rx="1.40" ry="2.69"/><rect x="324.95" y="118.42" width="4.53" height="8.15" rx="1.53" ry="2.75"/><rect x="318.67" y="118.37" width="4.98" height="8.25" rx="1.66" ry="2.76"/><rect x="311.99" y="118.42" width="5.32" height="8.15" rx="1.80" ry="2.75"/><rect x="304.62" y="118.93" width="5.47" height="7.15" rx="2.06" ry="2.69"/><rect x="296.19" y="119.18" width="5.81" height="6.64" rx="2.31" ry="2.63"/></g><g id="L10"><rect x="389.28" y="117.40" width="9.44" height="10.19" rx="2.76" ry="2.98"/><rect x="390.20" y="113.09" width="7.60" height="3.62" rx="2.55" ry="1.21"/><rect x="391.27" y="108.92" width="5.46" height="2.76" rx="2.32" ry="1.17"/><rect x="391.39" y="103.87" width="5.22" height="3.12" rx="2.26" ry="1.35"/><rect x="391.39" y="97.65" width="5.22" height="3.64" rx="2.26" ry="1.58"/><rect x="391.16" y="86.11" width="5.68" height="3.65" rx="2.36" ry="1.52"/><rect x="390.46" y="80.03" width="7.07" height="4.22" rx="2.53" ry="1.51"/><rect x="390.46" y="74.35" width="7.07" height="4.22" rx="2.53" ry="1.51"/><rect x="391.06" y="69.08" width="5.88" height="3.50" rx="2.40" ry="1.43"/><rect x="391.06" y="54.49" width="5.88" height="3.50" rx="2.40" ry="1.43"/><rect x="390.46" y="48.28" width="7.07" height="4.37" rx="2.53" ry="1.56"/><rect x="390.46" y="42.28" width="7.07" height="4.44" rx="2.53" ry="1.59"/><rect x="391.06" y="35.66" width="5.88" height="4.71" rx="2.40" ry="1.92"/><rect x="384.65" y="118.62" width="2.85" height="7.76" rx="1.01" ry="2.74"/><rect x="381.72" y="121.11" width="1.15" height="2.78" rx="0.57" ry="1.37"/><rect x="375.66" y="118.82" width="3.96" height="7.37" rx="1.46" ry="2.71"/><rect x="370.06" y="118.75" width="4.09" height="7.51" rx="1.48" ry="2.72"/><rect x="364.82" y="119.68" width="3.29" height="5.64" rx="1.43" ry="2.44"/><rect x="352.18" y="119.68" width="3.24" height="5.64" rx="1.40" ry="2.44"/><rect x="346.53" y="119.05" width="3.62" height="6.91" rx="1.40" ry="2.67"/><rect x="341.55" y="119.44" width="3.16" height="6.13" rx="1.31" ry="2.55"/><rect x="336.56" y="119.82" width="2.88" height="5.36" rx="1.27" ry="2.37"/><rect x="331.00" y="119.13" width="3.54" height="6.73" rx="1.39" ry="2.65"/><rect x="325.02" y="118.56" width="4.41" height="7.88" rx="1.53" ry="2.74"/><rect x="318.74" y="118.50" width="4.84" height="7.99" rx="1.67" ry="2.75"/><rect x="312.06" y="118.56" width="5.17" height="7.88" rx="1.80" ry="2.74"/><rect x="304.76" y="119.13" width="5.21" height="6.73" rx="2.05" ry="2.65"/><rect x="296.39" y="119.44" width="5.45" height="6.13" rx="2.27" ry="2.55"/></g><g id="L11"><rect x="389.33" y="117.46" width="9.33" height="10.08" rx="2.76" ry="2.98"/><rect x="390.33" y="113.14" width="7.35" height="3.52" rx="2.54" ry="1.22"/><rect x="391.59" y="109.06" width="4.83" height="2.49" rx="2.16" ry="1.11"/><rect x="391.74" y="104.06" width="4.53" height="2.76" rx="2.07" ry="1.26"/><rect x="391.74" y="97.86" width="4.53" height="3.22" rx="2.07" ry="1.47"/><rect x="391.45" y="86.26" width="5.10" height="3.34" rx="2.23" ry="1.46"/><rect x="390.62" y="80.10" width="6.76" height="4.07" rx="2.51" ry="1.51"/><rect x="390.62" y="74.43" width="6.76" height="4.07" rx="2.51" ry="1.51"/><rect x="391.33" y="69.21" width="5.34" height="3.24" rx="2.29" ry="1.39"/><rect x="391.33" y="54.63" width="5.34" height="3.24" rx="2.29" ry="1.39"/><rect x="390.62" y="48.36" width="6.76" height="4.21" rx="2.51" ry="1.56"/><rect x="390.62" y="42.36" width="6.76" height="4.28" rx="2.51" ry="1.59"/><rect x="391.33" y="35.87" width="5.34" height="4.36" rx="2.29" ry="1.87"/><rect x="384.70" y="118.78" width="2.75" height="7.44" rx="1.01" ry="2.72"/><rect x="375.74" y="119.01" width="3.79" height="6.99" rx="1.45" ry="2.68"/><rect x="370.14" y="118.93" width="3.93" height="7.15" rx="1.48" ry="2.69"/><rect x="365.02" y="120.05" width="2.92" height="4.89" rx="1.33" ry="2.23"/><rect x="352.37" y="120.05" width="2.87" height="4.89" rx="1.31" ry="2.23"/><rect x="346.62" y="119.28" width="3.42" height="6.45" rx="1.38" ry="2.61"/><rect x="341.68" y="119.75" width="2.89" height="5.51" rx="1.26" ry="2.41"/><rect x="336.76" y="120.23" width="2.49" height="4.53" rx="1.16" ry="2.11"/><rect x="331.10" y="119.38" width="3.33" height="6.24" rx="1.37" ry="2.57"/><rect x="325.09" y="118.71" width="4.27" height="7.57" rx="1.54" ry="2.73"/><rect x="318.81" y="118.65" width="4.70" height="7.70" rx="1.67" ry="2.73"/><rect x="312.15" y="118.71" width="5.00" height="7.57" rx="1.80" ry="2.73"/><rect x="304.93" y="119.38" width="4.90" height="6.24" rx="2.02" ry="2.57"/><rect x="296.64" y="119.75" width="4.98" height="5.51" rx="2.18" ry="2.41"/></g><g id="L12"><rect x="389.39" y="117.52" width="9.22" height="9.95" rx="2.77" ry="2.99"/><rect x="390.46" y="113.20" width="7.07" height="3.41" rx="2.53" ry="1.22"/><rect x="391.99" y="109.24" width="4.01" height="2.12" rx="1.89" ry="1.00"/><rect x="392.19" y="104.35" width="3.61" height="2.26" rx="1.73" ry="1.08"/><rect x="392.19" y="98.16" width="3.61" height="2.63" rx="1.73" ry="1.26"/><rect x="391.82" y="86.46" width="4.37" height="2.92" rx="2.02" ry="1.35"/><rect x="390.80" y="80.19" width="6.39" height="3.89" rx="2.47" ry="1.50"/><rect x="390.80" y="74.52" width="6.39" height="3.89" rx="2.47" ry="1.50"/><rect x="391.66" y="69.38" width="4.68" height="2.90" rx="2.12" ry="1.31"/><rect x="391.66" y="54.82" width="4.68" height="2.90" rx="2.12" ry="1.31"/><rect x="390.80" y="48.45" width="6.39" height="4.03" rx="2.47" ry="1.55"/><rect x="390.80" y="42.45" width="6.39" height="4.09" rx="2.47" ry="1.58"/><rect x="391.66" y="36.14" width="4.68" height="3.90" rx="2.12" ry="1.76"/><rect x="384.75" y="118.97" width="2.64" height="7.07" rx="1.00" ry="2.69"/><rect x="375.84" y="119.23" width="3.59" height="6.55" rx="1.44" ry="2.62"/><rect x="370.23" y="119.13" width="3.74" height="6.73" rx="1.47" ry="2.65"/><rect x="365.29" y="120.55" width="2.38" height="3.90" rx="1.14" ry="1.87"/><rect x="352.63" y="120.55" width="2.34" height="3.90" rx="1.12" ry="1.87"/><rect x="346.74" y="119.55" width="3.18" height="5.90" rx="1.35" ry="2.50"/><rect x="341.86" y="120.14" width="2.53" height="4.72" rx="1.17" ry="2.18"/><rect x="337.05" y="120.80" width="1.91" height="3.39" rx="0.93" ry="1.66"/><rect x="331.24" y="119.68" width="3.06" height="5.64" rx="1.33" ry="2.44"/><rect x="325.18" y="118.89" width="4.10" height="7.22" rx="1.53" ry="2.70"/><rect x="318.90" y="118.82" width="4.53" height="7.37" rx="1.67" ry="2.71"/><rect x="312.25" y="118.89" width="4.81" height="7.22" rx="1.80" ry="2.70"/><rect x="305.13" y="119.68" width="4.51" height="5.64" rx="1.95" ry="2.44"/><rect x="296.97" y="120.14" width="4.36" height="4.72" rx="2.01" ry="2.18"/></g><g id="L13"><rect x="389.45" y="117.59" width="9.10" height="9.82" rx="2.77" ry="2.99"/><rect x="390.62" y="113.26" width="6.76" height="3.28" rx="2.51" ry="1.22"/><rect x="392.56" y="109.53" width="2.87" height="1.55" rx="1.41" ry="0.76"/><rect x="392.88" y="104.81" width="2.23" height="1.42" rx="1.11" ry="0.71"/><rect x="392.88" y="98.66" width="2.23" height="1.66" rx="1.11" ry="0.82"/><rect x="392.31" y="86.76" width="3.39" height="2.32" rx="1.64" ry="1.12"/><rect x="391.02" y="80.29" width="5.97" height="3.68" rx="2.41" ry="1.49"/><rect x="391.02" y="74.63" width="5.97" height="3.68" rx="2.41" ry="1.49"/><rect x="392.09" y="69.61" width="3.82" height="2.42" rx="1.82" ry="1.15"/><rect x="392.09" y="55.08" width="3.82" height="2.42" rx="1.82" ry="1.15"/><rect x="391.02" y="48.57" width="5.97" height="3.81" rx="2.41" ry="1.54"/><rect x="391.02" y="42.57" width="5.97" height="3.87" rx="2.41" ry="1.56"/><rect x="392.09" y="36.51" width="3.82" height="3.25" rx="1.82" ry="1.55"/><rect x="384.81" y="119.18" width="2.51" height="6.64" rx="1.00" ry="2.63"/><rect x="375.96" y="119.49" width="3.35" height="6.02" rx="1.41" ry="2.53"/><rect x="370.34" y="119.38" width="3.52" height="6.24" rx="1.45" ry="2.57"/><rect x="365.74" y="121.29" width="1.50" height="2.41" rx="0.75" ry="1.20"/><rect x="353.06" y="121.29" width="1.47" height="2.41" rx="0.73" ry="1.20"/><rect x="346.89" y="119.89" width="2.86" height="5.21" rx="1.28" ry="2.33"/><rect x="342.12" y="120.67" width="2.01" height="3.66" rx="0.97" ry="1.77"/><rect x="337.60" y="121.80" width="0.79" height="1.39" rx="0.40" ry="0.70"/><rect x="331.42" y="120.05" width="2.71" height="4.89" rx="1.24" ry="2.23"/><rect x="325.27" y="119.09" width="3.92" height="6.82" rx="1.53" ry="2.66"/><rect x="319.00" y="119.01" width="4.34" height="6.99" rx="1.66" ry="2.68"/><rect x="312.37" y="119.09" width="4.59" height="6.82" rx="1.79" ry="2.66"/><rect x="305.40" y="120.05" width="3.99" height="4.89" rx="1.82" ry="2.23"/><rect x="297.45" y="120.67" width="3.46" height="3.66" rx="1.68" ry="1.77"/></g><g id="L14"><rect x="389.51" y="117.66" width="8.97" height="9.69" rx="2.77" ry="2.99"/><rect x="390.80" y="113.33" width="6.39" height="3.14" rx="2.47" ry="1.21"/><rect x="393.09" y="87.27" width="1.82" height="1.27" rx="0.91" ry="0.63"/><rect x="391.27" y="80.42" width="5.46" height="3.42" rx="2.32" ry="1.45"/><rect x="391.27" y="74.76" width="5.46" height="3.42" rx="2.32" ry="1.45"/><rect x="392.71" y="69.98" width="2.57" height="1.67" rx="1.27" ry="0.82"/><rect x="392.71" y="55.49" width="2.57" height="1.67" rx="1.27" ry="0.82"/><rect x="391.27" y="48.70" width="5.46" height="3.54" rx="2.32" ry="1.50"/><rect x="391.27" y="42.70" width="5.46" height="3.60" rx="2.32" ry="1.53"/><rect x="392.71" y="37.10" width="2.57" height="2.24" rx="1.27" ry="1.11"/><rect x="384.89" y="119.44" width="2.35" height="6.13" rx="0.98" ry="2.55"/><rect x="376.11" y="119.82" width="3.05" height="5.36" rx="1.35" ry="2.37"/><rect x="370.48" y="119.68" width="3.24" height="5.64" rx="1.40" ry="2.44"/><rect x="347.10" y="120.33" width="2.44" height="4.33" rx="1.15" ry="2.04"/><rect x="342.56" y="121.51" width="1.10" height="1.97" rx="0.55" ry="0.98"/><rect x="331.67" y="120.55" width="2.21" height="3.90" rx="1.06" ry="1.87"/><rect x="325.39" y="119.33" width="3.69" height="6.35" rx="1.51" ry="2.59"/><rect x="319.11" y="119.23" width="4.11" height="6.55" rx="1.65" ry="2.62"/><rect x="312.51" y="119.33" width="4.33" height="6.35" rx="1.77" ry="2.59"/><rect x="305.79" y="120.55" width="3.26" height="3.90" rx="1.56" ry="1.87"/><rect x="298.29" y="121.51" width="1.90" height="1.97" rx="0.95" ry="0.98"/></g><g id="L15"><rect x="389.58" y="117.73" width="8.84" height="9.55" rx="2.77" ry="2.99"/><rect x="391.02" y="113.42" width="5.97" height="2.97" rx="2.41" ry="1.20"/><rect x="391.59" y="80.59" width="4.83" height="3.08" rx="2.16" ry="1.38"/><rect x="391.59" y="74.93" width="4.83" height="3.08" rx="2.16" ry="1.38"/><rect x="391.59" y="48.88" width="4.83" height="3.19" rx="2.16" ry="1.43"/><rect x="391.59" y="42.88" width="4.83" height="3.24" rx="2.16" ry="1.45"/><rect x="384.98" y="119.75" width="2.15" height="5.51" rx="0.94" ry="2.41"/><rect x="376.31" y="120.23" width="2.63" height="4.53" rx="1.23" ry="2.11"/><rect x="370.67" y="120.05" width="2.87" height="4.89" rx="1.31" ry="2.23"/><rect x="347.42" y="120.95" width="1.78" height="3.10" rx="0.88" ry="1.52"/><rect x="332.09" y="121.29" width="1.40" height="2.41" rx="0.69" ry="1.20"/><rect x="325.53" y="119.61" width="3.41" height="5.77" rx="1.46" ry="2.48"/><rect x="319.25" y="119.49" width="3.84" height="6.02" rx="1.61" ry="2.53"/><rect x="312.68" y="119.61" width="4.00" height="5.77" rx="1.72" ry="2.48"/><rect x="306.42" y="121.29" width="2.05" height="2.41" rx="1.02" ry="1.20"/></g><g id="L16"><rect x="389.65" y="117.80" width="8.70" height="9.39" rx="2.78" ry="3.00"/><rect x="391.27" y="113.52" width="5.46" height="2.76" rx="2.32" ry="1.17"/><rect x="391.99" y="80.81" width="4.01" height="2.62" rx="1.89" ry="1.23"/><rect x="391.99" y="75.17" width="4.01" height="2.62" rx="1.89" ry="1.23"/><rect x="391.99" y="49.12" width="4.01" height="2.71" rx="1.89" ry="1.28"/><rect x="391.99" y="43.12" width="4.01" height="2.76" rx="1.89" ry="1.30"/><rect x="385.11" y="120.14" width="1.88" height="4.72" rx="0.87" ry="2.18"/><rect x="376.61" y="120.80" width="2.02" height="3.39" rx="0.98" ry="1.66"/><rect x="370.93" y="120.55" width="2.34" height="3.90" rx="1.12" ry="1.87"/><rect x="325.72" y="119.97" width="3.05" height="5.06" rx="1.38" ry="2.29"/><rect x="319.43" y="119.82" width="3.49" height="5.36" rx="1.54" ry="2.37"/><rect x="312.90" y="119.97" width="3.58" height="5.06" rx="1.62" ry="2.29"/></g><g id="L17"><rect x="389.73" y="117.88" width="8.55" height="9.23" rx="2.78" ry="3.00"/><rect x="391.59" y="113.66" width="4.83" height="2.49" rx="2.16" ry="1.11"/><rect x="392.56" y="81.16" width="2.87" height="1.92" rx="1.41" ry="0.94"/><rect x="392.56" y="75.52" width="2.87" height="1.92" rx="1.41" ry="0.94"/><rect x="392.56" y="49.49" width="2.87" height="1.99" rx="1.41" ry="0.98"/><rect x="392.56" y="43.49" width="2.87" height="2.02" rx="1.41" ry="0.99"/><rect x="385.29" y="120.67" width="1.50" height="3.66" rx="0.72" ry="1.77"/><rect x="377.19" y="121.80" width="0.84" height="1.39" rx="0.42" ry="0.70"/><rect x="371.36" y="121.29" width="1.47" height="2.41" rx="0.73" ry="1.20"/><rect x="325.98" y="120.44" width="2.55" height="4.12" rx="1.21" ry="1.96"/><rect x="319.67" y="120.23" width="3.01" height="4.53" rx="1.41" ry="2.11"/><rect x="313.22" y="120.44" width="2.99" height="4.12" rx="1.42" ry="1.96"/></g><g id="L18"><rect x="389.81" y="117.97" width="8.39" height="9.06" rx="2.78" ry="3.00"/><rect x="391.99" y="113.84" width="4.01" height="2.12" rx="1.89" ry="1.00"/><rect x="385.61" y="121.51" width="0.82" height="1.97" rx="0.41" ry="0.98"/><rect x="326.39" y="121.11" width="1.76" height="2.78" rx="0.87" ry="1.37"/><rect x="320.03" y="120.80" width="2.31" height="3.39" rx="1.13" ry="1.66"/><rect x="313.71" y="121.11" width="2.06" height="2.78" rx="1.02" ry="1.37"/></g><g id="L19"><rect x="389.89" y="118.07" width="8.21" height="8.87" rx="2.78" ry="3.01"/><rect x="392.56" y="114.13" width="2.87" height="1.55" rx="1.41" ry="0.76"/><rect x="320.71" y="121.80" width="0.96" height="1.39" rx="0.48" ry="0.70"/></g><g id="L20"><rect x="389.99" y="118.17" width="8.02" height="8.67" rx="2.78" ry="3.01"/></g><g id="L21"><rect x="390.09" y="118.28" width="7.82" height="8.45" rx="2.78" ry="3.00"/></g><g id="L22"><rect x="390.20" y="118.40" width="7.60" height="8.20" rx="2.78" ry="3.00"/></g><g id="L23"><rect x="390.33" y="118.53" width="7.35" height="7.94" rx="2.77" ry="2.99"/></g><g id="L24"><rect x="390.46" y="118.68" width="7.07" height="7.64" rx="2.75" ry="2.97"/></g><g id="L25"><rect x="390.62" y="118.85" width="6.76" height="7.30" rx="2.72" ry="2.94"/></g><g id="L26"><rect x="390.80" y="119.05" width="6.39" height="6.91" rx="2.67" ry="2.89"/></g><g id="L27"><rect x="391.02" y="119.28" width="5.97" height="6.45" rx="2.59" ry="2.80"/></g><g id="L28"><rect x="391.27" y="119.55" width="5.46" height="5.90" rx="2.47" ry="2.67"/></g><g id="L29"><rect x="391.59" y="119.89" width="4.83" height="5.21" rx="2.27" ry="2.45"/></g><g id="L30"><rect x="391.99" y="120.33" width="4.01" height="4.33" rx="1.95" ry="2.10"/></g><g id="L31"><rect x="392.56" y="120.95" width="2.87" height="3.10" rx="1.43" ry="1.54"/></g><clipPath id="pc"><rect x="295.1" y="23.4" width="197.4" height="197.6"/></clipPath><filter id="bl" x="-2%" y="-2%" width="104%" height="104%"><feGaussianBlur stdDeviation="0.7"/></filter></defs>
<rect width="550" height="301" fill="#fff"/>
<g id="panel-a">
<rect x="4.00" y="18.20" width="176.10" height="176.30" fill="#857dff"/>
<rect x="12.80" y="18.20" width="4.40" height="176.30" fill="#eef2fc"/>
<rect x="26.01" y="18.20" width="4.40" height="176.30" fill="#eef2fc"/>
<rect x="34.82" y="18.20" width="4.40" height="176.30" fill="#eef2fc"/>
<rect x="144.88" y="18.20" width="4.40" height="176.30" fill="#eef2fc"/>
<rect x="153.69" y="18.20" width="4.40" height="176.30" fill="#eef2fc"/>
<rect x="166.89" y="18.20" width="4.40" height="176.30" fill="#eef2fc"/>
<rect x="4.00" y="27.02" width="176.10" height="4.41" fill="#eef2fc"/>
<rect x="4.00" y="49.05" width="176.10" height="4.41" fill="#eef2fc"/>
<rect x="4.00" y="159.24" width="176.10" height="4.41" fill="#eef2fc"/>
<rect x="4.00" y="181.28" width="176.10" height="4.41" fill="#eef2fc"/>
<path d="M8.40 18.20V194.50M4.00 22.61H180.10M12.80 18.20V194.50M4.00 27.02H180.10M17.21 18.20V194.50M4.00 31.42H180.10M21.61 18.20V194.50M4.00 35.83H180.10M26.01 18.20V194.50M4.00 40.24H180.10M30.41 18.20V194.50M4.00 44.65H180.10M34.82 18.20V194.50M4.00 49.05H180.10M39.22 18.20V194.50M4.00 53.46H180.10M43.62 18.20V194.50M4.00 57.87H180.10M48.02 18.20V194.50M4.00 62.28H180.10M52.43 18.20V194.50M4.00 66.68H180.10M56.83 18.20V194.50M4.00 71.09H180.10M61.23 18.20V194.50M4.00 75.50H180.10M65.63 18.20V194.50M4.00 79.91H180.10M70.04 18.20V194.50M4.00 84.31H180.10M74.44 18.20V194.50M4.00 88.72H180.10M78.84 18.20V194.50M4.00 93.13H180.10M83.25 18.20V194.50M4.00 97.54H180.10M87.65 18.20V194.50M4.00 101.94H180.10M92.05 18.20V194.50M4.00 106.35H180.10M96.45 18.20V194.50M4.00 110.76H180.10M100.85 18.20V194.50M4.00 115.17H180.10M105.26 18.20V194.50M4.00 119.57H180.10M109.66 18.20V194.50M4.00 123.98H180.10M114.06 18.20V194.50M4.00 128.39H180.10M118.47 18.20V194.50M4.00 132.80H180.10M122.87 18.20V194.50M4.00 137.20H180.10M127.27 18.20V194.50M4.00 141.61H180.10M131.67 18.20V194.50M4.00 146.02H180.10M136.07 18.20V194.50M4.00 150.43H180.10M140.48 18.20V194.50M4.00 154.83H180.10M144.88 18.20V194.50M4.00 159.24H180.10M149.28 18.20V194.50M4.00 163.65H180.10M153.69 18.20V194.50M4.00 168.06H180.10M158.09 18.20V194.50M4.00 172.46H180.10M162.49 18.20V194.50M4.00 176.87H180.10M166.89 18.20V194.50M4.00 181.28H180.10M171.29 18.20V194.50M4.00 185.69H180.10M175.70 18.20V194.50M4.00 190.09H180.10" stroke="#15104a" stroke-width="0.65" stroke-opacity="0.85" fill="none"/>
<rect x="4.00" y="18.20" width="176.10" height="176.30" fill="none" stroke="#15104a" stroke-width="0.5" stroke-opacity="0.45"/>
<rect x="12.80" y="18.20" width="4.40" height="176.30" fill="#f2f5ff" fill-opacity="0.28"/>
<rect x="26.01" y="18.20" width="4.40" height="176.30" fill="#f2f5ff" fill-opacity="0.28"/>
<rect x="34.82" y="18.20" width="4.40" height="176.30" fill="#f2f5ff" fill-opacity="0.28"/>
<rect x="144.88" y="18.20" width="4.40" height="176.30" fill="#f2f5ff" fill-opacity="0.28"/>
<rect x="153.69" y="18.20" width="4.40" height="176.30" fill="#f2f5ff" fill-opacity="0.28"/>
<rect x="166.89" y="18.20" width="4.40" height="176.30" fill="#f2f5ff" fill-opacity="0.28"/>
<rect x="4.00" y="27.02" width="176.10" height="4.41" fill="#f2f5ff" fill-opacity="0.28"/>
<rect x="4.00" y="49.05" width="176.10" height="4.41" fill="#f2f5ff" fill-opacity="0.28"/>
<rect x="4.00" y="159.24" width="176.10" height="4.41" fill="#f2f5ff" fill-opacity="0.28"/>
<rect x="4.00" y="181.28" width="176.10" height="4.41" fill="#f2f5ff" fill-opacity="0.28"/>
<path d="M92.0 194.5V10" stroke="#000" stroke-width="1.5" fill="none"/>
<path d="M88.6 11.8L92.0 5.8L95.4 11.8Z" fill="#000"/>
<path d="M4.0 106.2H187" stroke="#000" stroke-width="1.5" fill="none"/>
<path d="M186 102.8L192 106.2L186 109.60000000000001Z" fill="#000"/>
<text x="98.2" y="9.2" class="se" font-size="9.5">y<tspan font-size="7.3">/0.5λ</tspan></text>
<text x="185" y="116.8" class="se" font-size="9.5">x<tspan font-size="7.3">/0.5λ</tspan></text>
<rect x="4.1" y="208.2" width="88.2" height="10.2" fill="#e9eefb"/>
<rect x="92.3" y="208.2" width="88.4" height="10.2" fill="#7b74f3"/>
<rect x="4.1" y="208.2" width="176.6" height="10.2" fill="none" stroke="#9a9a9a" stroke-width="0.6"/>
<text x="5.6" y="227.2" class="se" font-size="8" text-anchor="middle">0</text>
<text x="179.4" y="227.2" class="se" font-size="8" text-anchor="middle">1</text>
<text x="87.6" y="294" class="se" font-size="15.6" text-anchor="middle">(<tspan font-weight="bold">a</tspan>)</text>
</g>
<g id="panel-b">
<rect x="295.1" y="23.4" width="197.4" height="197.6" fill="#000"/>
<g clip-path="url(#pc)"><g filter="url(#bl)">
<g fill="#7000ff"><use href="#L0"/><use href="#L0" transform="translate(788.0,0) scale(-1,1)"/><use href="#L0" transform="translate(0,245.0) scale(1,-1)"/><use href="#L0" transform="translate(788.0,245.0) scale(-1,-1)"/></g>
<g fill="#5000ff"><use href="#L1"/><use href="#L1" transform="translate(788.0,0) scale(-1,1)"/><use href="#L1" transform="translate(0,245.0) scale(1,-1)"/><use href="#L1" transform="translate(788.0,245.0) scale(-1,-1)"/></g>
<g fill="#3000ff"><use href="#L2"/><use href="#L2" transform="translate(788.0,0) scale(-1,1)"/><use href="#L2" transform="translate(0,245.0) scale(1,-1)"/><use href="#L2" transform="translate(788.0,245.0) scale(-1,-1)"/></g>
<g fill="#1000ff"><use href="#L3"/><use href="#L3" transform="translate(788.0,0) scale(-1,1)"/><use href="#L3" transform="translate(0,245.0) scale(1,-1)"/><use href="#L3" transform="translate(788.0,245.0) scale(-1,-1)"/></g>
<g fill="#0014ff"><use href="#L4"/><use href="#L4" transform="translate(788.0,0) scale(-1,1)"/><use href="#L4" transform="translate(0,245.0) scale(1,-1)"/><use href="#L4" transform="translate(788.0,245.0) scale(-1,-1)"/></g>
<g fill="#003cff"><use href="#L5"/><use href="#L5" transform="translate(788.0,0) scale(-1,1)"/><use href="#L5" transform="translate(0,245.0) scale(1,-1)"/><use href="#L5" transform="translate(788.0,245.0) scale(-1,-1)"/></g>
<g fill="#0064ff"><use href="#L6"/><use href="#L6" transform="translate(788.0,0) scale(-1,1)"/><use href="#L6" transform="translate(0,245.0) scale(1,-1)"/><use href="#L6" transform="translate(788.0,245.0) scale(-1,-1)"/></g>
<g fill="#008bff"><use href="#L7"/><use href="#L7" transform="translate(788.0,0) scale(-1,1)"/><use href="#L7" transform="translate(0,245.0) scale(1,-1)"/><use href="#L7" transform="translate(788.0,245.0) scale(-1,-1)"/></g>
<g fill="#00b3ff"><use href="#L8"/><use href="#L8" transform="translate(788.0,0) scale(-1,1)"/><use href="#L8" transform="translate(0,245.0) scale(1,-1)"/><use href="#L8" transform="translate(788.0,245.0) scale(-1,-1)"/></g>
<g fill="#00dbff"><use href="#L9"/><use href="#L9" transform="translate(788.0,0) scale(-1,1)"/><use href="#L9" transform="translate(0,245.0) scale(1,-1)"/><use href="#L9" transform="translate(788.0,245.0) scale(-1,-1)"/></g>
<g fill="#00fffc"><use href="#L10"/><use href="#L10" transform="translate(788.0,0) scale(-1,1)"/><use href="#L10" transform="translate(0,245.0) scale(1,-1)"/><use href="#L10" transform="translate(788.0,245.0) scale(-1,-1)"/></g>
<g fill="#00ffdc"><use href="#L11"/><use href="#L11" transform="translate(788.0,0) scale(-1,1)"/><use href="#L11" transform="translate(0,245.0) scale(1,-1)"/><use href="#L11" transform="translate(788.0,245.0) scale(-1,-1)"/></g>
<g fill="#00ffbc"><use href="#L12"/><use href="#L12" transform="translate(788.0,0) scale(-1,1)"/><use href="#L12" transform="translate(0,245.0) scale(1,-1)"/><use href="#L12" transform="translate(788.0,245.0) scale(-1,-1)"/></g>
<g fill="#00ff9c"><use href="#L13"/><use href="#L13" transform="translate(788.0,0) scale(-1,1)"/><use href="#L13" transform="translate(0,245.0) scale(1,-1)"/><use href="#L13" transform="translate(788.0,245.0) scale(-1,-1)"/></g>
<g fill="#00ff7c"><use href="#L14"/><use href="#L14" transform="translate(788.0,0) scale(-1,1)"/><use href="#L14" transform="translate(0,245.0) scale(1,-1)"/><use href="#L14" transform="translate(788.0,245.0) scale(-1,-1)"/></g>
<g fill="#00ff5c"><use href="#L15"/><use href="#L15" transform="translate(788.0,0) scale(-1,1)"/><use href="#L15" transform="translate(0,245.0) scale(1,-1)"/><use href="#L15" transform="translate(788.0,245.0) scale(-1,-1)"/></g>
<g fill="#00ff3d"><use href="#L16"/><use href="#L16" transform="translate(788.0,0) scale(-1,1)"/><use href="#L16" transform="translate(0,245.0) scale(1,-1)"/><use href="#L16" transform="translate(788.0,245.0) scale(-1,-1)"/></g>
<g fill="#00ff1d"><use href="#L17"/><use href="#L17" transform="translate(788.0,0) scale(-1,1)"/><use href="#L17" transform="translate(0,245.0) scale(1,-1)"/><use href="#L17" transform="translate(788.0,245.0) scale(-1,-1)"/></g>
<g fill="#04ff00"><use href="#L18"/><use href="#L18" transform="translate(788.0,0) scale(-1,1)"/><use href="#L18" transform="translate(0,245.0) scale(1,-1)"/><use href="#L18" transform="translate(788.0,245.0) scale(-1,-1)"/></g>
<g fill="#27ff00"><use href="#L19"/><use href="#L19" transform="translate(788.0,0) scale(-1,1)"/><use href="#L19" transform="translate(0,245.0) scale(1,-1)"/><use href="#L19" transform="translate(788.0,245.0) scale(-1,-1)"/></g>
<g fill="#4aff00"><use href="#L20"/><use href="#L20" transform="translate(788.0,0) scale(-1,1)"/><use href="#L20" transform="translate(0,245.0) scale(1,-1)"/><use href="#L20" transform="translate(788.0,245.0) scale(-1,-1)"/></g>
<g fill="#6eff00"><use href="#L21"/><use href="#L21" transform="translate(788.0,0) scale(-1,1)"/><use href="#L21" transform="translate(0,245.0) scale(1,-1)"/><use href="#L21" transform="translate(788.0,245.0) scale(-1,-1)"/></g>
<g fill="#91ff00"><use href="#L22"/><use href="#L22" transform="translate(788.0,0) scale(-1,1)"/><use href="#L22" transform="translate(0,245.0) scale(1,-1)"/><use href="#L22" transform="translate(788.0,245.0) scale(-1,-1)"/></g>
<g fill="#b5ff00"><use href="#L23"/><use href="#L23" transform="translate(788.0,0) scale(-1,1)"/><use href="#L23" transform="translate(0,245.0) scale(1,-1)"/><use href="#L23" transform="translate(788.0,245.0) scale(-1,-1)"/></g>
<g fill="#d8ff00"><use href="#L24"/><use href="#L24" transform="translate(788.0,0) scale(-1,1)"/><use href="#L24" transform="translate(0,245.0) scale(1,-1)"/><use href="#L24" transform="translate(788.0,245.0) scale(-1,-1)"/></g>
<g fill="#fbff00"><use href="#L25"/><use href="#L25" transform="translate(788.0,0) scale(-1,1)"/><use href="#L25" transform="translate(0,245.0) scale(1,-1)"/><use href="#L25" transform="translate(788.0,245.0) scale(-1,-1)"/></g>
<g fill="#ffdb00"><use href="#L26"/><use href="#L26" transform="translate(788.0,0) scale(-1,1)"/><use href="#L26" transform="translate(0,245.0) scale(1,-1)"/><use href="#L26" transform="translate(788.0,245.0) scale(-1,-1)"/></g>
<g fill="#ffb300"><use href="#L27"/><use href="#L27" transform="translate(788.0,0) scale(-1,1)"/><use href="#L27" transform="translate(0,245.0) scale(1,-1)"/><use href="#L27" transform="translate(788.0,245.0) scale(-1,-1)"/></g>
<g fill="#ff8b00"><use href="#L28"/><use href="#L28" transform="translate(788.0,0) scale(-1,1)"/><use href="#L28" transform="translate(0,245.0) scale(1,-1)"/><use href="#L28" transform="translate(788.0,245.0) scale(-1,-1)"/></g>
<g fill="#ff6400"><use href="#L29"/><use href="#L29" transform="translate(788.0,0) scale(-1,1)"/><use href="#L29" transform="translate(0,245.0) scale(1,-1)"/><use href="#L29" transform="translate(788.0,245.0) scale(-1,-1)"/></g>
<g fill="#ff3c00"><use href="#L30"/><use href="#L30" transform="translate(788.0,0) scale(-1,1)"/><use href="#L30" transform="translate(0,245.0) scale(1,-1)"/><use href="#L30" transform="translate(788.0,245.0) scale(-1,-1)"/></g>
<g fill="#ff1400"><use href="#L31"/><use href="#L31" transform="translate(788.0,0) scale(-1,1)"/><use href="#L31" transform="translate(0,245.0) scale(1,-1)"/><use href="#L31" transform="translate(788.0,245.0) scale(-1,-1)"/></g>
</g></g>
<path d="M402.9 60.2H416.1" stroke="#8a8a8a" stroke-width="1.3" fill="none"/><path d="M399.9 60.2L405.3 58.1L404.1 60.2L405.3 62.3Z" fill="#8a8a8a"/><path d="M402.3 59.5H415.5" stroke="#f4f4f4" stroke-width="1.3" fill="none"/><path d="M399.3 59.5L404.7 57.4L403.5 59.5L404.7 61.6Z" fill="#f4f4f4"/>
<path d="M402.9 74.2H416.1" stroke="#8a8a8a" stroke-width="1.3" fill="none"/><path d="M399.9 74.2L405.3 72.1L404.1 74.2L405.3 76.3Z" fill="#8a8a8a"/><path d="M402.3 73.5H415.5" stroke="#f4f4f4" stroke-width="1.3" fill="none"/><path d="M399.3 73.5L404.7 71.4L403.5 73.5L404.7 75.6Z" fill="#f4f4f4"/>
<path d="M403.2 172.6H415.8" stroke="#8a8a8a" stroke-width="1.6" fill="none"/><path d="M400.2 172.6L405.6 170.5L404.4 172.6L405.6 174.7Z" fill="#8a8a8a"/><path d="M402.6 171.9H415.2" stroke="#d6d6d6" stroke-width="1.6" fill="none"/><path d="M399.6 171.9L405.0 169.8L403.8 171.9L405.0 174.0Z" fill="#d6d6d6"/>
<path d="M403.2 186.4H415.8" stroke="#8a8a8a" stroke-width="1.6" fill="none"/><path d="M400.2 186.4L405.6 184.3L404.4 186.4L405.6 188.5Z" fill="#8a8a8a"/><path d="M402.6 185.7H415.2" stroke="#d6d6d6" stroke-width="1.6" fill="none"/><path d="M399.6 185.7L405.0 183.6L403.8 185.7L405.0 187.8Z" fill="#d6d6d6"/>
<path d="M319.1 100.8V113.8" stroke="#8a8a8a" stroke-width="1.3" fill="none"/><path d="M319.1 116.8L317.0 111.4L319.1 112.6L321.2 111.4Z" fill="#8a8a8a"/><path d="M318.5 100.2V113.2" stroke="#f4f4f4" stroke-width="1.3" fill="none"/><path d="M318.5 116.2L316.4 110.8L318.5 112.0L320.6 110.8Z" fill="#f4f4f4"/>
<path d="M325.6 100.8V113.8" stroke="#8a8a8a" stroke-width="1.3" fill="none"/><path d="M325.6 116.8L323.5 111.4L325.6 112.6L327.7 111.4Z" fill="#8a8a8a"/><path d="M325.0 100.2V113.2" stroke="#f4f4f4" stroke-width="1.3" fill="none"/><path d="M325.0 116.2L322.9 110.8L325.0 112.0L327.1 110.8Z" fill="#f4f4f4"/>
<path d="M464.2 100.6V113.6" stroke="#8a8a8a" stroke-width="1.3" fill="none"/><path d="M464.2 116.6L462.1 111.2L464.2 112.4L466.3 111.2Z" fill="#8a8a8a"/><path d="M463.6 100.0V113.0" stroke="#f4f4f4" stroke-width="1.3" fill="none"/><path d="M463.6 116.0L461.5 110.6L463.6 111.8L465.7 110.6Z" fill="#f4f4f4"/>
<path d="M470.5 100.6V113.6" stroke="#8a8a8a" stroke-width="1.3" fill="none"/><path d="M470.5 116.6L468.4 111.2L470.5 112.4L472.6 111.2Z" fill="#8a8a8a"/><path d="M469.9 100.0V113.0" stroke="#f4f4f4" stroke-width="1.3" fill="none"/><path d="M469.9 116.0L467.8 110.6L469.9 111.8L472.0 110.6Z" fill="#f4f4f4"/>
<text x="287.0" y="26.9" class="mo" text-anchor="end">-1.0</text>
<text x="295.1" y="237.6" class="mo" text-anchor="middle">-1.0</text>
<text x="287.0" y="76.2" class="mo" text-anchor="end">-0.5</text>
<text x="344.5" y="237.6" class="mo" text-anchor="middle">-0.5</text>
<text x="287.0" y="125.5" class="mo" text-anchor="end">0.0</text>
<text x="393.8" y="237.6" class="mo" text-anchor="middle">0.0</text>
<text x="287.0" y="174.8" class="mo" text-anchor="end">0.5</text>
<text x="443.1" y="237.6" class="mo" text-anchor="middle">0.5</text>
<text x="287.0" y="224.1" class="mo" text-anchor="end">1.0</text>
<text x="492.5" y="237.6" class="mo" text-anchor="middle">1.0</text>
<path d="M289.2 23.8H295.1M295.1 221.0V227.2M289.2 73.1H295.1M344.5 221.0V227.2M289.2 122.4H295.1M393.8 221.0V227.2M289.2 171.7H295.1M443.1 221.0V227.2M289.2 221.0H295.1M492.5 221.0V227.2" stroke="#8c8c8c" stroke-width="1" fill="none"/>
<text x="393.7" y="9.6" class="mo" style="font-size:8.7px" text-anchor="middle">Normalized Far-Field Pattern [dB]</text>
<text x="394" y="260.4" class="mo" text-anchor="middle">u</text>
<text transform="translate(248,122.6) rotate(-90)" class="mo" text-anchor="middle">v</text>
<text x="395.6" y="294" class="se" font-size="15.6" text-anchor="middle">(<tspan font-weight="bold">b</tspan>)</text>
<rect x="512.2" y="29.8" width="8.4" height="84.3" fill="url(#cb)"/>
<text x="539.4" y="31.4" class="mo" text-anchor="middle">0</text>
<text x="539.4" y="54.7" class="mo" text-anchor="middle">-10</text>
<text x="539.4" y="75.4" class="mo" text-anchor="middle">-20</text>
<text x="539.4" y="95.7" class="mo" text-anchor="middle">-30</text>
<text x="539.4" y="115.1" class="mo" text-anchor="middle">-40</text>
<path d="M520.6 29.8H526.6M520.6 50.9H526.6M520.6 72.0H526.6M520.6 93.0H526.6M520.6 114.1H526.6" stroke="#8c8c8c" stroke-width="1" fill="none"/>
</g>
</svg>
</body>
</html>
